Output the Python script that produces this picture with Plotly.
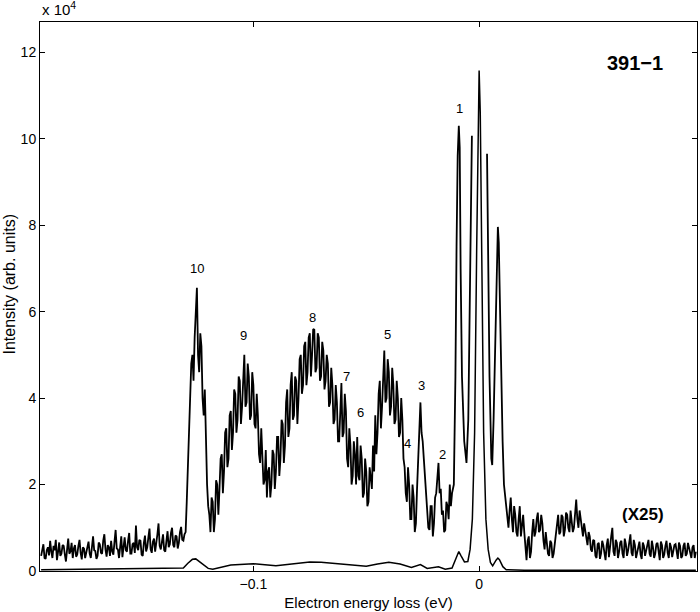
import numpy as np
import plotly.graph_objects as go

# ---------------- data ----------------
x25_step = 0.001
# x25 magnified spectrum, left of the elastic peak: samples at -0.194 + 0.001*i
x25_left_start = -0.194
x25_left_y = [
    0.35, 0.62, 0.28, 0.55, 0.70, 0.30, 0.48, 0.25, 0.66, 0.40,
    0.58, 0.22, 0.75, 0.45, 0.30, 0.60, 0.38, 0.72, 0.27, 0.52,
    0.42, 0.68, 0.30, 0.80, 0.46, 0.35, 0.62, 0.40, 0.85, 0.33,
    0.55, 0.70, 0.38, 0.95, 0.50, 0.62, 0.32, 0.78, 0.45, 0.88,
    0.40, 0.65, 1.05, 0.48, 0.70, 0.35, 0.82, 0.55, 0.98, 0.42,
    0.75, 0.60, 1.10, 0.50, 0.85, 0.45, 0.92, 0.62, 1.00, 0.55,
    0.80, 0.65, 1.02, 0.70,
    0.9, 2.5, 4.0, 5.0, 5.4, 6.55, 4.6, 5.2, 3.6, 3.0,
    1.5, 0.9, 1.6, 1.2, 2.0, 1.9, 2.7, 2.3, 3.3, 2.6,
    3.7, 3.2, 4.1, 3.5, 4.4, 3.8, 5.0, 3.9, 4.5, 3.6,
    4.3, 3.3, 3.6, 2.5, 2.8, 2.1, 1.7, 2.4, 2.0, 2.7,
    2.3, 3.1, 2.6, 3.4, 2.9, 4.2, 3.3, 4.6, 3.6, 4.4,
    4.0, 5.0, 4.3, 5.3, 4.6, 5.5, 5.0, 5.58, 4.7, 5.4,
    4.5, 5.1, 4.4, 4.8, 3.9, 4.3, 3.5, 3.9, 3.0, 4.35,
    3.2, 3.7, 2.4, 2.9, 2.2, 2.7, 3.1, 2.1, 2.6, 1.8,
    2.3, 1.6, 2.1, 2.9, 3.6, 3.2, 4.4, 3.8, 5.1, 4.0,
    4.6, 3.8, 4.3, 3.5, 4.0, 3.2, 3.5, 2.4, 1.6, 2.0,
    1.2, 1.7, 1.1, 2.6, 3.9, 3.0, 2.2, 1.4, 0.95, 1.5,
    1.1, 1.8, 2.5, 1.9, 1.4, 0.95, 1.5, 2.0, 1.8,
]
# the in-between samples at -0.1935 + 0.001*i
x25_left_half_start = -0.1935
x25_left_half_y = [
    0.52, 0.30, 0.48, 0.36, 0.45, 0.58, 0.72, 0.44, 0.35, 0.60,
    0.38, 0.50, 0.40, 0.65, 0.52, 0.33, 0.58, 0.42, 0.55, 0.30,
    0.62, 0.40, 0.55, 0.48, 0.28, 0.66, 0.42, 0.70, 0.50, 0.60,
    0.35, 0.45, 0.68, 0.52, 0.30, 0.80, 0.55, 0.48, 0.70, 0.40,
    0.62, 0.42, 0.55, 0.72, 0.38, 0.65, 0.45, 0.78, 0.50, 0.68,
    0.45, 0.85, 0.58, 0.75, 0.48, 0.70, 0.55, 0.88, 0.60, 0.82,
    0.52, 0.90, 0.72, 0.85,
    1.6, 3.4, 4.8, 4.4, 6.0, 5.0, 5.5, 4.0, 4.2, 2.0,
    1.3, 1.7, 0.9, 2.1, 1.3, 2.6, 1.8, 3.2, 2.4, 3.6,
    2.8, 4.2, 3.2, 4.5, 3.4, 4.7, 3.8, 4.8, 3.5, 4.6,
    3.4, 4.1, 2.7, 3.3, 2.0, 2.8, 2.3, 1.7, 2.8, 1.9,
    3.1, 2.2, 3.5, 2.5, 3.9, 3.1, 4.3, 3.5, 4.5, 3.4,
    4.9, 4.1, 5.2, 4.3, 5.4, 4.5, 5.6, 4.6, 5.5, 4.4,
    5.3, 4.2, 5.0, 3.8, 4.7, 3.4, 4.3, 3.0, 3.8, 3.1,
    4.1, 2.6, 3.3, 2.0, 3.0, 2.0, 2.2, 2.9, 1.7, 2.6,
    1.5, 2.4, 1.9, 2.3, 2.7, 4.1, 3.3, 4.7, 3.9, 4.9,
    3.6, 4.7, 3.4, 4.4, 3.1, 4.0, 2.6, 1.8, 2.4, 1.2,
    2.0, 0.9, 1.9, 3.3, 3.2, 2.6, 1.6, 1.0, 1.5, 0.8,
    1.7, 2.2, 1.8, 1.3, 0.9, 1.6, 1.2, 1.5,
]

# x25 spectrum near the elastic peak (cut where it leaves the drawn range)
x25_mid_x = [-0.0112, -0.0105, -0.0100, -0.0095, -0.0090, -0.0086, -0.0082, -0.0076,
             -0.0066, -0.0056, -0.0048, -0.0042, -0.0036, -0.0032, 0.0,
             0.0035, 0.0040, 0.0046, 0.0054, 0.0058, 0.0064, 0.0072, 0.0079,
             0.0083, 0.0087, 0.0092, 0.0098, 0.0104, 0.0110]
x25_mid_y = [2.0, 4.5, 7.5, 9.6, 10.3, 9.8, 7.0, 4.5,
             3.0, 2.5, 3.5, 6.0, 8.5, 10.07, None,
             9.65, 7.0, 4.5, 2.6, 2.45, 3.5, 5.5, 7.5,
             7.96, 7.6, 6.0, 4.3, 3.0, 2.0]

# x25 spectrum right of the elastic peak: samples at 0.012 + 0.001*i
x25_right_start = 0.012
x25_right_y = [
    1.5, 1.0, 1.7, 0.9, 1.3, 0.8, 1.5, 1.0, 0.9, 0.25,
    0.8, 0.45, 1.2, 0.9, 1.35, 0.95, 1.1, 0.5, 0.7, 0.35,
    0.65, 0.4, 0.9, 1.3, 0.9, 1.25, 0.95, 1.3, 0.9, 1.2,
    1.0, 1.65, 1.0, 1.15, 0.8, 0.95, 0.6, 0.8,
    0.45, 0.70, 0.30, 0.65, 0.40, 0.60, 0.25, 0.75, 0.50, 1.00,
    0.35, 0.65, 0.45, 0.70, 0.30, 0.62, 0.48, 0.85, 0.35, 0.60,
    0.42, 0.68, 0.28, 0.58, 0.45, 0.72, 0.33, 0.55, 0.40, 0.65,
    0.25, 0.60, 0.38, 0.70, 0.30, 0.55, 0.45, 0.62, 0.28, 0.58,
    0.35, 0.65, 0.40, 0.55, 0.30, 0.60, 0.45,
]
# in-between samples at 0.0125 + 0.001*i
x25_right_half_start = 0.0125
x25_right_half_y = [
    1.1, 1.4, 1.2, 1.5, 0.9, 1.2, 0.8, 1.3, 0.6, 0.7,
    0.3, 0.9, 0.8, 1.2, 0.9, 1.3, 0.7, 0.9, 0.4, 0.7,
    0.3, 0.6, 1.1, 0.85, 1.3, 0.8, 1.35, 1.0, 1.4, 0.9,
    1.3, 1.2, 1.4, 0.9, 1.1, 0.7, 0.9, 0.5,
    0.72, 0.35, 0.62, 0.28, 0.70, 0.42, 0.60, 0.32, 0.80, 0.45,
    0.72, 0.30, 0.66, 0.40, 0.75, 0.35, 0.65, 0.42, 0.72, 0.30,
    0.62, 0.38, 0.66, 0.35, 0.60, 0.40, 0.70, 0.30, 0.62, 0.45,
    0.68, 0.30, 0.58, 0.42, 0.65, 0.32, 0.60, 0.40, 0.66, 0.30,
    0.58, 0.35, 0.65, 0.42, 0.55, 0.30,
]

# unmagnified spectrum (x1)
raw_x = [-0.194, -0.17, -0.15, -0.135, -0.131, -0.129, -0.127, -0.1255, -0.124, -0.122,
         -0.120, -0.118, -0.115, -0.110, -0.100, -0.095, -0.090, -0.085, -0.080, -0.075,
         -0.070, -0.065, -0.060, -0.055, -0.050, -0.045, -0.040, -0.035, -0.030, -0.026,
         -0.023, -0.018, -0.015, -0.012, -0.010, -0.009, -0.008, -0.0065, -0.005, -0.004,
         -0.003, -0.002, -0.0011, -0.0005, 0.0, 0.0005, 0.0011, 0.002, 0.003, 0.004,
         0.005, 0.006, 0.0075, 0.0083, 0.009, 0.0105, 0.012, 0.02, 0.05, 0.096]
raw_y = [0.03, 0.04, 0.05, 0.06, 0.07, 0.18, 0.27, 0.28, 0.22, 0.12,
         0.06, 0.04, 0.08, 0.14, 0.17, 0.15, 0.12, 0.15, 0.18, 0.21,
         0.20, 0.18, 0.16, 0.13, 0.11, 0.16, 0.20, 0.16, 0.08, 0.15,
         0.06, 0.10, 0.04, 0.07, 0.32, 0.45, 0.35, 0.21, 0.22, 0.5,
         1.2, 3.2, 7.4, 10.6, 11.58, 10.6, 7.4, 3.2, 1.2, 0.5,
         0.2, 0.12, 0.25, 0.30, 0.26, 0.10, 0.03, 0.02, 0.02, 0.02]

# peak labels
peak_labels = ["1", "2", "3", "4", "5", "6", "7", "8", "9", "10"]
peak_label_x = [-0.0089, -0.0161, -0.0254, -0.0316, -0.0404, -0.0524, -0.0586, -0.0736, -0.1042, -0.1250]
peak_label_y = [10.7, 2.69, 4.28, 2.96, 5.46, 3.66, 4.49, 5.86, 5.45, 6.99]

# -----------------------------------------------------------------------
def grid(start, values):
    return [start + x25_step * i for i in range(len(values))]

left = sorted(zip(grid(x25_left_start, x25_left_y) + grid(x25_left_half_start, x25_left_half_y),
                  x25_left_y + x25_left_half_y))
right = sorted(zip(grid(x25_right_start, x25_right_y) + grid(x25_right_half_start, x25_right_half_y),
                   x25_right_y + x25_right_half_y))
x25_x = [p[0] for p in left] + x25_mid_x + [p[0] for p in right]
x25_y = [p[1] for p in left] + x25_mid_y + [p[1] for p in right]

FONT = "Liberation Sans, Arial, Helvetica, sans-serif"

fig = go.Figure()
fig.add_trace(go.Scatter(x=raw_x, y=raw_y, mode="lines",
                         line=dict(color="black", width=1.5), hoverinfo="skip"))
fig.add_trace(go.Scatter(x=x25_x, y=x25_y, mode="lines", connectgaps=False,
                         line=dict(color="black", width=1.8), hoverinfo="skip"))

annotations = []
for t, ax, ay in zip(peak_labels, peak_label_x, peak_label_y):
    annotations.append(dict(x=ax, y=ay, text=t, showarrow=False,
                            font=dict(family=FONT, size=13, color="black"),
                            xanchor="center", yanchor="middle"))
annotations.append(dict(x=0.069, y=11.76, text="<b>391\u22121</b>", showarrow=False,
                        font=dict(family=FONT, size=20, color="black"),
                        xanchor="center", yanchor="middle"))
annotations.append(dict(x=0.0725, y=1.30, text="<b>(X25)</b>", showarrow=False,
                        font=dict(family=FONT, size=17, color="black"),
                        xanchor="center", yanchor="middle"))
annotations.append(dict(xref="paper", yref="paper", x=0.0, y=1.0, yshift=2,
                        text="x 10<sup>4</sup>", showarrow=False,
                        font=dict(family=FONT, size=15, color="black"),
                        xanchor="left", yanchor="bottom"))
annotations.append(dict(xref="paper", yref="paper", x=-0.0472, y=0.5237,
                        text="Intensity (arb. units)", textangle=-90, showarrow=False,
                        font=dict(family=FONT, size=16, color="black"),
                        xanchor="center", yanchor="middle"))

fig.update_layout(
    width=700, height=612,
    margin=dict(l=40, r=3, t=22, b=41),
    paper_bgcolor="white", plot_bgcolor="white",
    showlegend=False,
    font=dict(family=FONT, size=14, color="black"),
    annotations=annotations,
    xaxis=dict(range=[-0.1945, 0.0965], tickmode="array", tickvals=[-0.1, 0.0],
               ticktext=["\u22120.1", "0"], ticks="inside", ticklen=5, tickcolor="black",
               showline=True, linecolor="black", linewidth=1, mirror="ticks",
               showgrid=False, zeroline=False,
               title=dict(text="Electron energy loss (eV)", font=dict(size=15), standoff=6),
               tickfont=dict(size=14)),
    yaxis=dict(range=[0, 12.7], tickmode="array", tickvals=[0, 2, 4, 6, 8, 10, 12],
               ticks="inside", ticklen=5, tickcolor="black",
               showline=True, linecolor="black", linewidth=1, mirror="ticks",
               showgrid=False, zeroline=False, tickfont=dict(size=14)),
)

fig.write_html("out.html", config={"displayModeBar": False},
               post_script="document.body.style.margin='0';document.body.style.padding='0';")
